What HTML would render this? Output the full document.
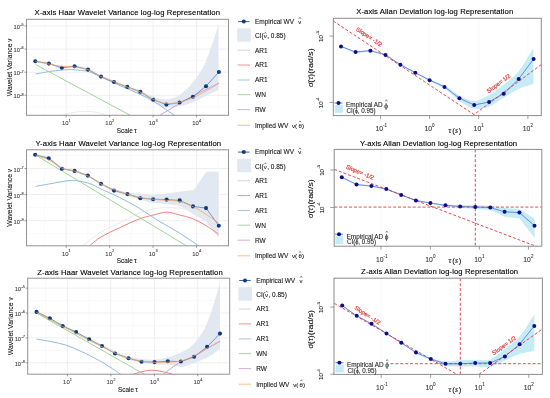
<!DOCTYPE html>
<html><head><meta charset="utf-8"><style>
html,body{margin:0;padding:0;background:#fff;}
body{width:550px;height:398px;overflow:hidden;}
svg{display:block;filter:blur(0.3px);}
</style></head><body>
<svg width="550" height="398" viewBox="0 0 550 398">
<rect width="550" height="398" fill="#fff"/>
<g>
<clipPath id="clipL0"><rect x="26.5" y="19.3" width="202.0" height="96.0"/></clipPath>
<line x1="44.48" y1="19.3" x2="44.48" y2="115.3" stroke="#f5f5f5" stroke-width="0.6"/>
<line x1="87.93" y1="19.3" x2="87.93" y2="115.3" stroke="#f5f5f5" stroke-width="0.6"/>
<line x1="131.38" y1="19.3" x2="131.38" y2="115.3" stroke="#f5f5f5" stroke-width="0.6"/>
<line x1="174.82" y1="19.3" x2="174.82" y2="115.3" stroke="#f5f5f5" stroke-width="0.6"/>
<line x1="218.28" y1="19.3" x2="218.28" y2="115.3" stroke="#f5f5f5" stroke-width="0.6"/>
<line x1="66.20" y1="19.3" x2="66.20" y2="115.3" stroke="#efefef" stroke-width="1"/>
<line x1="109.65" y1="19.3" x2="109.65" y2="115.3" stroke="#efefef" stroke-width="1"/>
<line x1="153.10" y1="19.3" x2="153.10" y2="115.3" stroke="#efefef" stroke-width="1"/>
<line x1="196.55" y1="19.3" x2="196.55" y2="115.3" stroke="#efefef" stroke-width="1"/>
<line x1="26.5" y1="106.85" x2="228.5" y2="106.85" stroke="#f5f5f5" stroke-width="0.6"/>
<line x1="26.5" y1="95.30" x2="228.5" y2="95.30" stroke="#efefef" stroke-width="1"/>
<line x1="26.5" y1="83.75" x2="228.5" y2="83.75" stroke="#f5f5f5" stroke-width="0.6"/>
<line x1="26.5" y1="72.20" x2="228.5" y2="72.20" stroke="#efefef" stroke-width="1"/>
<line x1="26.5" y1="60.65" x2="228.5" y2="60.65" stroke="#f5f5f5" stroke-width="0.6"/>
<line x1="26.5" y1="49.10" x2="228.5" y2="49.10" stroke="#efefef" stroke-width="1"/>
<line x1="26.5" y1="37.55" x2="228.5" y2="37.55" stroke="#f5f5f5" stroke-width="0.6"/>
<line x1="26.5" y1="26.00" x2="228.5" y2="26.00" stroke="#efefef" stroke-width="1"/>
<g clip-path="url(#clipL0)">
<path d="M35.30,60.20 C37.57,60.60 44.48,61.50 48.90,62.60 C53.32,63.70 57.52,66.37 61.80,66.80 C66.08,67.23 70.23,64.90 74.60,65.20 C78.97,65.50 83.60,66.87 88.00,68.60 C92.40,70.33 96.67,73.53 101.00,75.60 C105.33,77.67 109.62,79.30 114.00,81.00 C118.38,82.70 122.95,84.25 127.30,85.80 C131.65,87.35 135.78,88.47 140.10,90.30 C144.42,92.13 148.83,95.30 153.20,96.80 C157.57,98.30 161.93,99.57 166.30,99.30 C170.67,99.03 175.00,97.98 179.40,95.20 C183.80,92.42 188.33,88.15 192.70,82.60 C197.07,77.05 201.30,71.45 205.60,61.90 C209.90,52.35 216.35,31.40 218.50,25.30 L218.50,90.00 C216.35,91.00 209.90,93.93 205.60,96.00 C201.30,98.07 197.07,100.70 192.70,102.40 C188.33,104.10 183.80,105.35 179.40,106.20 C175.00,107.05 170.67,108.17 166.30,107.50 C161.93,106.83 157.57,104.38 153.20,102.20 C148.83,100.02 144.42,96.73 140.10,94.40 C135.78,92.07 131.65,90.10 127.30,88.20 C122.95,86.30 118.38,84.77 114.00,83.00 C109.62,81.23 105.33,79.67 101.00,77.60 C96.67,75.53 92.40,72.33 88.00,70.60 C83.60,68.87 78.97,67.50 74.60,67.20 C70.23,66.90 66.08,69.23 61.80,68.80 C57.52,68.37 53.32,65.70 48.90,64.60 C44.48,63.50 37.57,62.60 35.30,62.20 Z" fill="#e2e8f1"/>
<path d="M60.00,116.00 C62.00,115.43 67.75,113.38 72.00,112.60 C76.25,111.82 81.17,111.30 85.50,111.30 C89.83,111.30 94.25,111.82 98.00,112.60 C101.75,113.38 106.33,115.43 108.00,116.00" fill="none" stroke="#eaeaea" stroke-width="0.95"/>
<path d="M35.50,74.00 C37.75,73.60 44.63,72.25 49.00,71.60 C53.37,70.95 58.00,70.43 61.70,70.10 C65.40,69.77 68.03,69.55 71.20,69.60 C74.37,69.65 77.80,70.07 80.70,70.40 C83.60,70.73 85.43,70.60 88.60,71.60 C91.77,72.60 95.48,74.52 99.70,76.40 C103.92,78.28 109.35,80.87 113.90,82.90 C118.45,84.93 122.63,86.68 127.00,88.60 C131.37,90.52 135.73,92.35 140.10,94.40 C144.47,96.45 147.22,97.22 153.20,100.90 C159.18,104.58 172.20,113.90 176.00,116.50" fill="none" stroke="#8cb6e2" stroke-width="0.95"/>
<path d="M35.50,64.50 L130.00,115.20" fill="none" stroke="#98d492" stroke-width="0.95"/>
<path d="M157.00,117.00 C162.50,113.77 179.68,103.23 190.00,97.60 C200.32,91.97 214.08,85.60 218.90,83.20" fill="none" stroke="#c89be0" stroke-width="0.95"/>
<path d="M35.30,61.20 L48.90,63.60 L61.80,67.80 L74.60,66.20 L88.00,69.60 L101.00,76.60 L114.00,82.00 L127.30,86.90 L140.30,91.80 L153.20,99.70 L166.40,104.60 L179.60,102.50 L192.90,96.80 L206.00,86.20 L218.90,72.00" fill="none" stroke="#0b3a80" stroke-width="0.6" stroke-opacity="0.8"/>
<circle cx="35.30" cy="61.20" r="2.05" fill="#0b3a80"/>
<circle cx="48.90" cy="63.60" r="2.05" fill="#0b3a80"/>
<circle cx="61.80" cy="67.80" r="2.05" fill="#0b3a80"/>
<circle cx="74.60" cy="66.20" r="2.05" fill="#0b3a80"/>
<circle cx="88.00" cy="69.60" r="2.05" fill="#0b3a80"/>
<circle cx="101.00" cy="76.60" r="2.05" fill="#0b3a80"/>
<circle cx="114.00" cy="82.00" r="2.05" fill="#0b3a80"/>
<circle cx="127.30" cy="86.90" r="2.05" fill="#0b3a80"/>
<circle cx="140.30" cy="91.80" r="2.05" fill="#0b3a80"/>
<circle cx="153.20" cy="99.70" r="2.05" fill="#0b3a80"/>
<circle cx="166.40" cy="104.60" r="2.05" fill="#0b3a80"/>
<circle cx="179.60" cy="102.50" r="2.05" fill="#0b3a80"/>
<circle cx="192.90" cy="96.80" r="2.05" fill="#0b3a80"/>
<circle cx="206.00" cy="86.20" r="2.05" fill="#0b3a80"/>
<circle cx="218.90" cy="72.00" r="2.05" fill="#0b3a80"/>
<path d="M35.50,61.50 C37.75,61.92 44.63,63.18 49.00,64.00 C53.37,64.82 57.47,65.90 61.70,66.40 C65.93,66.90 70.05,66.47 74.40,67.00 C78.75,67.53 83.45,68.03 87.80,69.60 C92.15,71.17 96.15,74.42 100.50,76.40 C104.85,78.38 109.48,79.73 113.90,81.50 C118.32,83.27 122.63,85.25 127.00,87.00 C131.37,88.75 135.73,89.95 140.10,92.00 C144.47,94.05 148.83,97.40 153.20,99.30 C157.57,101.20 161.93,102.92 166.30,103.40 C170.67,103.88 174.97,103.13 179.40,102.20 C183.83,101.27 188.47,99.67 192.90,97.80 C197.33,95.93 201.67,93.43 206.00,91.00 C210.33,88.57 216.75,84.50 218.90,83.20" fill="none" stroke="#f2a860" stroke-width="0.9" stroke-opacity="0.85"/>
</g>
<rect x="26.5" y="19.3" width="202.0" height="96.0" fill="none" stroke="#939393" stroke-width="1"/>
<line x1="66.20" y1="115.3" x2="66.20" y2="117.3" stroke="#555" stroke-width="0.6"/>
<text x="65.20" y="125.10" font-size="5.9" fill="#3a3a3a" text-anchor="middle" font-family='"Liberation Sans", sans-serif'  stroke="#3a3a3a" stroke-width="0.08">10</text>
<text x="68.60" y="121.60" font-size="4.0" fill="#3a3a3a" text-anchor="start" font-family='"Liberation Sans", sans-serif'  stroke="#3a3a3a" stroke-width="0.08">1</text>
<line x1="109.65" y1="115.3" x2="109.65" y2="117.3" stroke="#555" stroke-width="0.6"/>
<text x="108.65" y="125.10" font-size="5.9" fill="#3a3a3a" text-anchor="middle" font-family='"Liberation Sans", sans-serif'  stroke="#3a3a3a" stroke-width="0.08">10</text>
<text x="112.05" y="121.60" font-size="4.0" fill="#3a3a3a" text-anchor="start" font-family='"Liberation Sans", sans-serif'  stroke="#3a3a3a" stroke-width="0.08">2</text>
<line x1="153.10" y1="115.3" x2="153.10" y2="117.3" stroke="#555" stroke-width="0.6"/>
<text x="152.10" y="125.10" font-size="5.9" fill="#3a3a3a" text-anchor="middle" font-family='"Liberation Sans", sans-serif'  stroke="#3a3a3a" stroke-width="0.08">10</text>
<text x="155.50" y="121.60" font-size="4.0" fill="#3a3a3a" text-anchor="start" font-family='"Liberation Sans", sans-serif'  stroke="#3a3a3a" stroke-width="0.08">3</text>
<line x1="196.55" y1="115.3" x2="196.55" y2="117.3" stroke="#555" stroke-width="0.6"/>
<text x="195.55" y="125.10" font-size="5.9" fill="#3a3a3a" text-anchor="middle" font-family='"Liberation Sans", sans-serif'  stroke="#3a3a3a" stroke-width="0.08">10</text>
<text x="198.95" y="121.60" font-size="4.0" fill="#3a3a3a" text-anchor="start" font-family='"Liberation Sans", sans-serif'  stroke="#3a3a3a" stroke-width="0.08">4</text>
<line x1="24.5" y1="26.00" x2="26.5" y2="26.00" stroke="#555" stroke-width="0.6"/>
<text x="19.90" y="29.10" font-size="5.8" fill="#3a3a3a" text-anchor="end" font-family='"Liberation Sans", sans-serif'  stroke="#3a3a3a" stroke-width="0.08">10</text>
<text x="20.20" y="26.30" font-size="4.0" fill="#3a3a3a" text-anchor="start" font-family='"Liberation Sans", sans-serif'  stroke="#3a3a3a" stroke-width="0.08">-5</text>
<line x1="24.5" y1="49.10" x2="26.5" y2="49.10" stroke="#555" stroke-width="0.6"/>
<text x="19.90" y="52.20" font-size="5.8" fill="#3a3a3a" text-anchor="end" font-family='"Liberation Sans", sans-serif'  stroke="#3a3a3a" stroke-width="0.08">10</text>
<text x="20.20" y="49.40" font-size="4.0" fill="#3a3a3a" text-anchor="start" font-family='"Liberation Sans", sans-serif'  stroke="#3a3a3a" stroke-width="0.08">-6</text>
<line x1="24.5" y1="72.20" x2="26.5" y2="72.20" stroke="#555" stroke-width="0.6"/>
<text x="19.90" y="75.30" font-size="5.8" fill="#3a3a3a" text-anchor="end" font-family='"Liberation Sans", sans-serif'  stroke="#3a3a3a" stroke-width="0.08">10</text>
<text x="20.20" y="72.50" font-size="4.0" fill="#3a3a3a" text-anchor="start" font-family='"Liberation Sans", sans-serif'  stroke="#3a3a3a" stroke-width="0.08">-7</text>
<line x1="24.5" y1="95.30" x2="26.5" y2="95.30" stroke="#555" stroke-width="0.6"/>
<text x="19.90" y="98.40" font-size="5.8" fill="#3a3a3a" text-anchor="end" font-family='"Liberation Sans", sans-serif'  stroke="#3a3a3a" stroke-width="0.08">10</text>
<text x="20.20" y="95.60" font-size="4.0" fill="#3a3a3a" text-anchor="start" font-family='"Liberation Sans", sans-serif'  stroke="#3a3a3a" stroke-width="0.08">-8</text>
<text x="34.50" y="14.60" font-size="7.7" fill="#000" text-anchor="start" font-family='"Liberation Sans", sans-serif' textLength="185.5" lengthAdjust="spacing" stroke="#000" stroke-width="0.12">X-axis Haar Wavelet Variance log-log Representation</text>
<text x="116.80" y="132.70" font-size="6.4" fill="#111" text-anchor="start" font-family='"Liberation Sans", sans-serif'  stroke="#111" stroke-width="0.08">Scale</text>
<text x="134.00" y="132.90" font-size="6.9" fill="#111" text-anchor="start" font-family='"Liberation Sans", sans-serif'  stroke="#111" stroke-width="0.08">&#964;</text>
<text transform="translate(11.70,96.30) rotate(-90)" font-size="6.83" fill="#111" stroke="#111" stroke-width="0.08" font-family='"Liberation Sans", sans-serif'>Wavelet Variance <tspan font-size="6.3">&#957;</tspan></text>
<line x1="238.0" y1="21.6" x2="249.5" y2="21.6" stroke="#0b3a80" stroke-width="0.8"/>
<circle cx="243.8" cy="21.6" r="2" fill="#0b3a80"/>
<rect x="237.2" y="28.3" width="13.6" height="13.4" fill="#e2e8f1"/>
<line x1="237.6" y1="50.2" x2="250.0" y2="50.2" stroke="#d0d0d0" stroke-width="0.9"/>
<line x1="237.6" y1="65.0" x2="250.0" y2="65.0" stroke="#f28a8a" stroke-width="0.9"/>
<line x1="237.6" y1="80.0" x2="250.0" y2="80.0" stroke="#9ebfe6" stroke-width="0.9"/>
<line x1="237.6" y1="94.7" x2="250.0" y2="94.7" stroke="#9cd398" stroke-width="0.9"/>
<line x1="237.6" y1="109.7" x2="250.0" y2="109.7" stroke="#cfa3e2" stroke-width="0.9"/>
<line x1="237.6" y1="125.3" x2="250.0" y2="125.3" stroke="#f6b878" stroke-width="0.9"/>
<text x="255.00" y="23.90" font-size="6.5" fill="#111" text-anchor="start" font-family='"Liberation Sans", sans-serif'  stroke="#111" stroke-width="0.08">Empirical WV</text>
<text x="298.30" y="23.90" font-size="6.0" fill="#111" text-anchor="start" font-family='"Liberation Sans", sans-serif'  stroke="#111" stroke-width="0.08">&#957;</text>
<path d="M299.00,18.80 L300.00,17.30 L301.00,18.80" fill="none" stroke="#111" stroke-width="0.5"/>
<text x="255.00" y="38.30" font-size="6.5" fill="#111" text-anchor="start" font-family='"Liberation Sans", sans-serif'  stroke="#111" stroke-width="0.08">CI(</text>
<text x="263.80" y="38.30" font-size="6.0" fill="#111" text-anchor="start" font-family='"Liberation Sans", sans-serif'  stroke="#111" stroke-width="0.08">&#957;</text>
<path d="M264.50,33.60 L265.40,32.30 L266.30,33.60" fill="none" stroke="#111" stroke-width="0.5"/>
<text x="267.20" y="38.30" font-size="6.5" fill="#111" text-anchor="start" font-family='"Liberation Sans", sans-serif'  stroke="#111" stroke-width="0.08">, 0.85)</text>
<text x="255.00" y="52.50" font-size="6.5" fill="#111" text-anchor="start" font-family='"Liberation Sans", sans-serif'  stroke="#111" stroke-width="0.08">AR1</text>
<text x="255.00" y="67.30" font-size="6.5" fill="#111" text-anchor="start" font-family='"Liberation Sans", sans-serif'  stroke="#111" stroke-width="0.08">AR1</text>
<text x="255.00" y="82.30" font-size="6.5" fill="#111" text-anchor="start" font-family='"Liberation Sans", sans-serif'  stroke="#111" stroke-width="0.08">AR1</text>
<text x="255.00" y="97.00" font-size="6.5" fill="#111" text-anchor="start" font-family='"Liberation Sans", sans-serif'  stroke="#111" stroke-width="0.08">WN</text>
<text x="255.00" y="112.00" font-size="6.5" fill="#111" text-anchor="start" font-family='"Liberation Sans", sans-serif'  stroke="#111" stroke-width="0.08">RW</text>
<text x="255.00" y="127.60" font-size="6.5" fill="#111" text-anchor="start" font-family='"Liberation Sans", sans-serif'  stroke="#111" stroke-width="0.08">Implied WV</text>
<text x="292.00" y="127.60" font-size="6.2" fill="#111" text-anchor="start" font-family='"Liberation Sans", sans-serif'  stroke="#111" stroke-width="0.08">&#957;(</text>
<text x="298.40" y="127.60" font-size="6.0" fill="#111" text-anchor="start" font-family='"Liberation Sans", sans-serif'  stroke="#111" stroke-width="0.08">&#952;</text>
<path d="M299.20,122.20 L300.10,120.90 L301.00,122.20" fill="none" stroke="#111" stroke-width="0.5"/>
<text x="301.90" y="127.60" font-size="6.2" fill="#111" text-anchor="start" font-family='"Liberation Sans", sans-serif'  stroke="#111" stroke-width="0.08">)</text>
</g>
<g>
<clipPath id="clipL130"><rect x="26.5" y="149.8" width="202.0" height="96.0"/></clipPath>
<line x1="44.48" y1="149.8" x2="44.48" y2="245.8" stroke="#f5f5f5" stroke-width="0.6"/>
<line x1="87.93" y1="149.8" x2="87.93" y2="245.8" stroke="#f5f5f5" stroke-width="0.6"/>
<line x1="131.38" y1="149.8" x2="131.38" y2="245.8" stroke="#f5f5f5" stroke-width="0.6"/>
<line x1="174.82" y1="149.8" x2="174.82" y2="245.8" stroke="#f5f5f5" stroke-width="0.6"/>
<line x1="218.28" y1="149.8" x2="218.28" y2="245.8" stroke="#f5f5f5" stroke-width="0.6"/>
<line x1="66.20" y1="149.8" x2="66.20" y2="245.8" stroke="#efefef" stroke-width="1"/>
<line x1="109.65" y1="149.8" x2="109.65" y2="245.8" stroke="#efefef" stroke-width="1"/>
<line x1="153.10" y1="149.8" x2="153.10" y2="245.8" stroke="#efefef" stroke-width="1"/>
<line x1="196.55" y1="149.8" x2="196.55" y2="245.8" stroke="#efefef" stroke-width="1"/>
<line x1="26.5" y1="233.75" x2="228.5" y2="233.75" stroke="#f5f5f5" stroke-width="0.6"/>
<line x1="26.5" y1="220.70" x2="228.5" y2="220.70" stroke="#efefef" stroke-width="1"/>
<line x1="26.5" y1="207.65" x2="228.5" y2="207.65" stroke="#f5f5f5" stroke-width="0.6"/>
<line x1="26.5" y1="194.60" x2="228.5" y2="194.60" stroke="#efefef" stroke-width="1"/>
<line x1="26.5" y1="181.55" x2="228.5" y2="181.55" stroke="#f5f5f5" stroke-width="0.6"/>
<line x1="26.5" y1="168.50" x2="228.5" y2="168.50" stroke="#efefef" stroke-width="1"/>
<line x1="26.5" y1="155.45" x2="228.5" y2="155.45" stroke="#f5f5f5" stroke-width="0.6"/>
<g clip-path="url(#clipL130)">
<path d="M35.20,153.60 L48.70,157.00 L61.90,167.50 L74.60,169.70 L87.80,174.40 L101.00,182.50 L114.00,189.20 L127.40,192.50 L150.00,195.20 L166.60,193.80 L179.90,191.60 L193.70,189.90 L206.50,171.70 L218.70,171.70 L218.70,237.80 L206.00,221.80 L193.70,214.40 L179.90,205.80 L166.60,204.00 L150.00,202.60 L127.40,196.00 L114.00,192.00 L101.00,185.10 L87.80,176.80 L74.60,172.10 L61.90,169.90 L48.70,159.40 L35.20,156.00 Z" fill="#e2e8f1"/>
<path d="M80.00,248.00 C83.33,245.45 93.40,236.88 100.00,232.70 C106.60,228.52 113.07,226.17 119.60,222.90 C126.13,219.63 132.67,215.55 139.20,213.10 C145.73,210.65 152.27,209.02 158.80,208.20 C165.33,207.38 172.77,207.73 178.40,208.20 C184.03,208.67 188.17,209.70 192.60,211.00 C197.03,212.30 200.65,213.83 205.00,216.00 C209.35,218.17 216.42,222.67 218.70,224.00" fill="none" stroke="#eaeaea" stroke-width="0.95"/>
<path d="M85.00,250.00 C87.50,247.93 94.23,241.30 100.00,237.60 C105.77,233.90 113.07,230.90 119.60,227.80 C126.13,224.70 133.63,221.12 139.20,219.00 C144.77,216.88 148.42,216.23 153.00,215.10 C157.58,213.97 162.47,212.27 166.70,212.20 C170.93,212.13 174.08,213.63 178.40,214.70 C182.72,215.77 188.17,216.88 192.60,218.60 C197.03,220.32 200.65,222.40 205.00,225.00 C209.35,227.60 216.42,232.67 218.70,234.20" fill="none" stroke="#f07a76" stroke-width="0.95"/>
<path d="M35.50,186.50 C38.02,186.03 45.13,184.67 50.60,183.70 C56.07,182.73 63.90,181.20 68.30,180.70 C72.70,180.20 73.23,180.15 77.00,180.70 C80.77,181.25 87.07,182.68 90.90,184.00 C94.73,185.32 95.22,186.35 100.00,188.60 C104.78,190.85 113.07,194.23 119.60,197.50 C126.13,200.77 132.67,204.28 139.20,208.20 C145.73,212.12 152.27,216.98 158.80,221.00 C165.33,225.02 171.62,228.05 178.40,232.30 C185.18,236.55 195.98,244.13 199.50,246.50" fill="none" stroke="#8cb6e2" stroke-width="0.95"/>
<path d="M35.50,155.00 C60.30,169.92 158.55,229.00 184.30,244.50 C210.05,260.00 189.05,247.42 190.00,248.00" fill="none" stroke="#98d492" stroke-width="0.95"/>
<path d="M35.20,154.80 L48.70,158.20 L61.90,168.70 L74.60,170.90 L87.80,175.60 L101.00,183.80 L114.00,190.60 L127.40,194.10 L140.30,198.20 L153.10,199.20 L166.60,199.60 L179.70,200.40 L193.00,206.40 L206.00,208.10 L218.80,225.70" fill="none" stroke="#0b3a80" stroke-width="0.6" stroke-opacity="0.8"/>
<circle cx="35.20" cy="154.80" r="2.05" fill="#0b3a80"/>
<circle cx="48.70" cy="158.20" r="2.05" fill="#0b3a80"/>
<circle cx="61.90" cy="168.70" r="2.05" fill="#0b3a80"/>
<circle cx="74.60" cy="170.90" r="2.05" fill="#0b3a80"/>
<circle cx="87.80" cy="175.60" r="2.05" fill="#0b3a80"/>
<circle cx="101.00" cy="183.80" r="2.05" fill="#0b3a80"/>
<circle cx="114.00" cy="190.60" r="2.05" fill="#0b3a80"/>
<circle cx="127.40" cy="194.10" r="2.05" fill="#0b3a80"/>
<circle cx="140.30" cy="198.20" r="2.05" fill="#0b3a80"/>
<circle cx="153.10" cy="199.20" r="2.05" fill="#0b3a80"/>
<circle cx="166.60" cy="199.60" r="2.05" fill="#0b3a80"/>
<circle cx="179.70" cy="200.40" r="2.05" fill="#0b3a80"/>
<circle cx="193.00" cy="206.40" r="2.05" fill="#0b3a80"/>
<circle cx="206.00" cy="208.10" r="2.05" fill="#0b3a80"/>
<circle cx="218.80" cy="225.70" r="2.05" fill="#0b3a80"/>
<path d="M35.50,155.00 C37.70,155.83 44.28,157.82 48.70,160.00 C53.12,162.18 57.70,166.25 62.00,168.10 C66.30,169.95 70.10,169.75 74.50,171.10 C78.90,172.45 83.98,174.05 88.40,176.20 C92.82,178.35 96.73,181.78 101.00,184.00 C105.27,186.22 109.60,187.83 114.00,189.50 C118.40,191.17 123.02,192.67 127.40,194.00 C131.78,195.33 136.02,196.63 140.30,197.50 C144.58,198.37 148.72,198.72 153.10,199.20 C157.48,199.68 162.13,200.00 166.60,200.40 C171.07,200.80 175.38,200.50 179.90,201.60 C184.42,202.70 189.35,204.87 193.70,207.00 C198.05,209.13 201.83,211.75 206.00,214.40 C210.17,217.05 216.58,221.48 218.70,222.90" fill="none" stroke="#f2a860" stroke-width="0.9" stroke-opacity="0.85"/>
</g>
<rect x="26.5" y="149.8" width="202.0" height="96.0" fill="none" stroke="#939393" stroke-width="1"/>
<line x1="66.20" y1="245.8" x2="66.20" y2="247.8" stroke="#555" stroke-width="0.6"/>
<text x="65.20" y="255.60" font-size="5.9" fill="#3a3a3a" text-anchor="middle" font-family='"Liberation Sans", sans-serif'  stroke="#3a3a3a" stroke-width="0.08">10</text>
<text x="68.60" y="252.10" font-size="4.0" fill="#3a3a3a" text-anchor="start" font-family='"Liberation Sans", sans-serif'  stroke="#3a3a3a" stroke-width="0.08">1</text>
<line x1="109.65" y1="245.8" x2="109.65" y2="247.8" stroke="#555" stroke-width="0.6"/>
<text x="108.65" y="255.60" font-size="5.9" fill="#3a3a3a" text-anchor="middle" font-family='"Liberation Sans", sans-serif'  stroke="#3a3a3a" stroke-width="0.08">10</text>
<text x="112.05" y="252.10" font-size="4.0" fill="#3a3a3a" text-anchor="start" font-family='"Liberation Sans", sans-serif'  stroke="#3a3a3a" stroke-width="0.08">2</text>
<line x1="153.10" y1="245.8" x2="153.10" y2="247.8" stroke="#555" stroke-width="0.6"/>
<text x="152.10" y="255.60" font-size="5.9" fill="#3a3a3a" text-anchor="middle" font-family='"Liberation Sans", sans-serif'  stroke="#3a3a3a" stroke-width="0.08">10</text>
<text x="155.50" y="252.10" font-size="4.0" fill="#3a3a3a" text-anchor="start" font-family='"Liberation Sans", sans-serif'  stroke="#3a3a3a" stroke-width="0.08">3</text>
<line x1="196.55" y1="245.8" x2="196.55" y2="247.8" stroke="#555" stroke-width="0.6"/>
<text x="195.55" y="255.60" font-size="5.9" fill="#3a3a3a" text-anchor="middle" font-family='"Liberation Sans", sans-serif'  stroke="#3a3a3a" stroke-width="0.08">10</text>
<text x="198.95" y="252.10" font-size="4.0" fill="#3a3a3a" text-anchor="start" font-family='"Liberation Sans", sans-serif'  stroke="#3a3a3a" stroke-width="0.08">4</text>
<line x1="24.5" y1="168.50" x2="26.5" y2="168.50" stroke="#555" stroke-width="0.6"/>
<text x="19.90" y="171.60" font-size="5.8" fill="#3a3a3a" text-anchor="end" font-family='"Liberation Sans", sans-serif'  stroke="#3a3a3a" stroke-width="0.08">10</text>
<text x="20.20" y="168.80" font-size="4.0" fill="#3a3a3a" text-anchor="start" font-family='"Liberation Sans", sans-serif'  stroke="#3a3a3a" stroke-width="0.08">-7</text>
<line x1="24.5" y1="194.60" x2="26.5" y2="194.60" stroke="#555" stroke-width="0.6"/>
<text x="19.90" y="197.70" font-size="5.8" fill="#3a3a3a" text-anchor="end" font-family='"Liberation Sans", sans-serif'  stroke="#3a3a3a" stroke-width="0.08">10</text>
<text x="20.20" y="194.90" font-size="4.0" fill="#3a3a3a" text-anchor="start" font-family='"Liberation Sans", sans-serif'  stroke="#3a3a3a" stroke-width="0.08">-8</text>
<line x1="24.5" y1="220.70" x2="26.5" y2="220.70" stroke="#555" stroke-width="0.6"/>
<text x="19.90" y="223.80" font-size="5.8" fill="#3a3a3a" text-anchor="end" font-family='"Liberation Sans", sans-serif'  stroke="#3a3a3a" stroke-width="0.08">10</text>
<text x="20.20" y="221.00" font-size="4.0" fill="#3a3a3a" text-anchor="start" font-family='"Liberation Sans", sans-serif'  stroke="#3a3a3a" stroke-width="0.08">-9</text>
<text x="35.60" y="146.20" font-size="7.7" fill="#000" text-anchor="start" font-family='"Liberation Sans", sans-serif' textLength="185.5" lengthAdjust="spacing" stroke="#000" stroke-width="0.12">Y-axis Haar Wavelet Variance log-log Representation</text>
<text x="116.80" y="263.20" font-size="6.4" fill="#111" text-anchor="start" font-family='"Liberation Sans", sans-serif'  stroke="#111" stroke-width="0.08">Scale</text>
<text x="134.00" y="263.40" font-size="6.9" fill="#111" text-anchor="start" font-family='"Liberation Sans", sans-serif'  stroke="#111" stroke-width="0.08">&#964;</text>
<text transform="translate(11.70,226.80) rotate(-90)" font-size="6.83" fill="#111" stroke="#111" stroke-width="0.08" font-family='"Liberation Sans", sans-serif'>Wavelet Variance <tspan font-size="6.3">&#957;</tspan></text>
<line x1="238.0" y1="152.1" x2="249.5" y2="152.1" stroke="#0b3a80" stroke-width="0.8"/>
<circle cx="243.8" cy="152.1" r="2" fill="#0b3a80"/>
<rect x="237.2" y="158.8" width="13.6" height="13.4" fill="#e2e8f1"/>
<line x1="237.6" y1="180.7" x2="250.0" y2="180.7" stroke="#d0d0d0" stroke-width="0.9"/>
<line x1="237.6" y1="195.5" x2="250.0" y2="195.5" stroke="#f28a8a" stroke-width="0.9"/>
<line x1="237.6" y1="210.5" x2="250.0" y2="210.5" stroke="#9ebfe6" stroke-width="0.9"/>
<line x1="237.6" y1="225.2" x2="250.0" y2="225.2" stroke="#9cd398" stroke-width="0.9"/>
<line x1="237.6" y1="240.2" x2="250.0" y2="240.2" stroke="#cfa3e2" stroke-width="0.9"/>
<line x1="237.6" y1="255.8" x2="250.0" y2="255.8" stroke="#f6b878" stroke-width="0.9"/>
<text x="255.00" y="154.40" font-size="6.5" fill="#111" text-anchor="start" font-family='"Liberation Sans", sans-serif'  stroke="#111" stroke-width="0.08">Empirical WV</text>
<text x="298.30" y="154.40" font-size="6.0" fill="#111" text-anchor="start" font-family='"Liberation Sans", sans-serif'  stroke="#111" stroke-width="0.08">&#957;</text>
<path d="M299.00,149.30 L300.00,147.80 L301.00,149.30" fill="none" stroke="#111" stroke-width="0.5"/>
<text x="255.00" y="168.80" font-size="6.5" fill="#111" text-anchor="start" font-family='"Liberation Sans", sans-serif'  stroke="#111" stroke-width="0.08">CI(</text>
<text x="263.80" y="168.80" font-size="6.0" fill="#111" text-anchor="start" font-family='"Liberation Sans", sans-serif'  stroke="#111" stroke-width="0.08">&#957;</text>
<path d="M264.50,164.10 L265.40,162.80 L266.30,164.10" fill="none" stroke="#111" stroke-width="0.5"/>
<text x="267.20" y="168.80" font-size="6.5" fill="#111" text-anchor="start" font-family='"Liberation Sans", sans-serif'  stroke="#111" stroke-width="0.08">, 0.85)</text>
<text x="255.00" y="183.00" font-size="6.5" fill="#111" text-anchor="start" font-family='"Liberation Sans", sans-serif'  stroke="#111" stroke-width="0.08">AR1</text>
<text x="255.00" y="197.80" font-size="6.5" fill="#111" text-anchor="start" font-family='"Liberation Sans", sans-serif'  stroke="#111" stroke-width="0.08">AR1</text>
<text x="255.00" y="212.80" font-size="6.5" fill="#111" text-anchor="start" font-family='"Liberation Sans", sans-serif'  stroke="#111" stroke-width="0.08">AR1</text>
<text x="255.00" y="227.50" font-size="6.5" fill="#111" text-anchor="start" font-family='"Liberation Sans", sans-serif'  stroke="#111" stroke-width="0.08">WN</text>
<text x="255.00" y="242.50" font-size="6.5" fill="#111" text-anchor="start" font-family='"Liberation Sans", sans-serif'  stroke="#111" stroke-width="0.08">RW</text>
<text x="255.00" y="258.10" font-size="6.5" fill="#111" text-anchor="start" font-family='"Liberation Sans", sans-serif'  stroke="#111" stroke-width="0.08">Implied WV</text>
<text x="292.00" y="258.10" font-size="6.2" fill="#111" text-anchor="start" font-family='"Liberation Sans", sans-serif'  stroke="#111" stroke-width="0.08">&#957;(</text>
<text x="298.40" y="258.10" font-size="6.0" fill="#111" text-anchor="start" font-family='"Liberation Sans", sans-serif'  stroke="#111" stroke-width="0.08">&#952;</text>
<path d="M299.20,252.70 L300.10,251.40 L301.00,252.70" fill="none" stroke="#111" stroke-width="0.5"/>
<text x="301.90" y="258.10" font-size="6.2" fill="#111" text-anchor="start" font-family='"Liberation Sans", sans-serif'  stroke="#111" stroke-width="0.08">)</text>
</g>
<g>
<clipPath id="clipL259"><rect x="27.7" y="278.2" width="202.0" height="96.0"/></clipPath>
<line x1="45.68" y1="278.2" x2="45.68" y2="374.2" stroke="#f5f5f5" stroke-width="0.6"/>
<line x1="89.13" y1="278.2" x2="89.13" y2="374.2" stroke="#f5f5f5" stroke-width="0.6"/>
<line x1="132.57" y1="278.2" x2="132.57" y2="374.2" stroke="#f5f5f5" stroke-width="0.6"/>
<line x1="176.02" y1="278.2" x2="176.02" y2="374.2" stroke="#f5f5f5" stroke-width="0.6"/>
<line x1="219.48" y1="278.2" x2="219.48" y2="374.2" stroke="#f5f5f5" stroke-width="0.6"/>
<line x1="67.40" y1="278.2" x2="67.40" y2="374.2" stroke="#efefef" stroke-width="1"/>
<line x1="110.85" y1="278.2" x2="110.85" y2="374.2" stroke="#efefef" stroke-width="1"/>
<line x1="154.30" y1="278.2" x2="154.30" y2="374.2" stroke="#efefef" stroke-width="1"/>
<line x1="197.75" y1="278.2" x2="197.75" y2="374.2" stroke="#efefef" stroke-width="1"/>
<line x1="27.7" y1="362.80" x2="229.7" y2="362.80" stroke="#efefef" stroke-width="1"/>
<line x1="27.7" y1="350.35" x2="229.7" y2="350.35" stroke="#f5f5f5" stroke-width="0.6"/>
<line x1="27.7" y1="337.90" x2="229.7" y2="337.90" stroke="#efefef" stroke-width="1"/>
<line x1="27.7" y1="325.45" x2="229.7" y2="325.45" stroke="#f5f5f5" stroke-width="0.6"/>
<line x1="27.7" y1="313.00" x2="229.7" y2="313.00" stroke="#efefef" stroke-width="1"/>
<line x1="27.7" y1="300.55" x2="229.7" y2="300.55" stroke="#f5f5f5" stroke-width="0.6"/>
<line x1="27.7" y1="288.10" x2="229.7" y2="288.10" stroke="#efefef" stroke-width="1"/>
<g clip-path="url(#clipL259)">
<path d="M36.50,310.70 C47.42,316.38 86.67,337.15 102.00,344.80 C117.33,352.45 119.95,354.13 128.50,356.60 C137.05,359.07 146.75,359.48 153.30,359.60 C159.85,359.72 163.15,358.50 167.80,357.30 C172.45,356.10 176.82,354.72 181.20,352.40 C185.58,350.08 189.78,348.28 194.10,343.40 C198.42,338.52 202.78,333.18 207.10,323.10 C211.42,313.02 217.85,289.60 220.00,282.90 L220.00,349.00 C217.85,350.42 211.42,355.17 207.10,357.50 C202.78,359.83 198.42,361.42 194.10,363.00 C189.78,364.58 185.58,366.73 181.20,367.00 C176.82,367.27 172.45,365.03 167.80,364.60 C163.15,364.17 159.85,365.20 153.30,364.40 C146.75,363.60 137.05,362.67 128.50,359.80 C119.95,356.93 117.33,354.98 102.00,347.20 C86.67,339.42 47.42,318.78 36.50,313.10 Z" fill="#e2e8f1"/>
<path d="M128.00,377.00 C128.92,376.53 129.57,375.33 133.50,374.20 C137.43,373.07 145.07,370.20 151.60,370.20 C158.13,370.20 168.30,373.07 172.70,374.20 C177.10,375.33 177.12,376.53 178.00,377.00" fill="none" stroke="#f07a76" stroke-width="0.95"/>
<path d="M36.50,339.10 C38.90,339.52 45.95,340.58 50.90,341.60 C55.85,342.62 61.12,343.55 66.20,345.20 C71.28,346.85 76.32,349.17 81.40,351.50 C86.48,353.83 92.27,356.82 96.70,359.20 C101.13,361.58 103.58,363.00 108.00,365.80 C112.42,368.60 120.67,374.30 123.20,376.00" fill="none" stroke="#8cb6e2" stroke-width="0.95"/>
<path d="M36.50,313.00 C54.45,323.20 125.08,363.37 144.20,374.20 C163.32,385.03 150.03,377.37 151.20,378.00" fill="none" stroke="#98d492" stroke-width="0.95"/>
<path d="M161.20,378.00 C161.58,377.38 161.73,376.00 163.50,374.30 C165.27,372.60 168.90,369.87 171.80,367.80 C174.70,365.73 177.20,363.80 180.90,361.90 C184.60,360.00 189.65,358.62 194.00,356.40 C198.35,354.18 202.67,351.12 207.00,348.60 C211.33,346.08 217.83,342.52 220.00,341.30" fill="none" stroke="#c89be0" stroke-width="0.95"/>
<path d="M36.50,311.90 L49.80,318.30 L62.70,326.00 L76.10,332.10 L89.10,339.30 L102.00,346.00 L115.00,353.50 L128.50,358.20 L141.50,361.80 L154.50,362.10 L167.80,361.20 L180.90,361.50 L194.10,356.80 L207.10,346.80 L220.00,333.60" fill="none" stroke="#0b3a80" stroke-width="0.6" stroke-opacity="0.8"/>
<circle cx="36.50" cy="311.90" r="2.05" fill="#0b3a80"/>
<circle cx="49.80" cy="318.30" r="2.05" fill="#0b3a80"/>
<circle cx="62.70" cy="326.00" r="2.05" fill="#0b3a80"/>
<circle cx="76.10" cy="332.10" r="2.05" fill="#0b3a80"/>
<circle cx="89.10" cy="339.30" r="2.05" fill="#0b3a80"/>
<circle cx="102.00" cy="346.00" r="2.05" fill="#0b3a80"/>
<circle cx="115.00" cy="353.50" r="2.05" fill="#0b3a80"/>
<circle cx="128.50" cy="358.20" r="2.05" fill="#0b3a80"/>
<circle cx="141.50" cy="361.80" r="2.05" fill="#0b3a80"/>
<circle cx="154.50" cy="362.10" r="2.05" fill="#0b3a80"/>
<circle cx="167.80" cy="361.20" r="2.05" fill="#0b3a80"/>
<circle cx="180.90" cy="361.50" r="2.05" fill="#0b3a80"/>
<circle cx="194.10" cy="356.80" r="2.05" fill="#0b3a80"/>
<circle cx="207.10" cy="346.80" r="2.05" fill="#0b3a80"/>
<circle cx="220.00" cy="333.60" r="2.05" fill="#0b3a80"/>
<path d="M36.50,312.50 C40.87,314.83 51.78,320.78 62.70,326.50 C73.62,332.22 91.00,341.50 102.00,346.80 C113.00,352.10 119.95,355.70 128.70,358.30 C137.45,360.90 148.00,361.75 154.50,362.40 C161.00,363.05 163.30,362.43 167.70,362.20 C172.10,361.97 176.52,362.03 180.90,361.00 C185.28,359.97 189.65,358.12 194.00,356.00 C198.35,353.88 202.67,350.77 207.00,348.30 C211.33,345.83 217.83,342.38 220.00,341.20" fill="none" stroke="#f2a860" stroke-width="0.9" stroke-opacity="0.85"/>
</g>
<rect x="27.7" y="278.2" width="202.0" height="96.0" fill="none" stroke="#939393" stroke-width="1"/>
<line x1="67.40" y1="374.2" x2="67.40" y2="376.2" stroke="#555" stroke-width="0.6"/>
<text x="66.40" y="384.00" font-size="5.9" fill="#3a3a3a" text-anchor="middle" font-family='"Liberation Sans", sans-serif'  stroke="#3a3a3a" stroke-width="0.08">10</text>
<text x="69.80" y="380.50" font-size="4.0" fill="#3a3a3a" text-anchor="start" font-family='"Liberation Sans", sans-serif'  stroke="#3a3a3a" stroke-width="0.08">1</text>
<line x1="110.85" y1="374.2" x2="110.85" y2="376.2" stroke="#555" stroke-width="0.6"/>
<text x="109.85" y="384.00" font-size="5.9" fill="#3a3a3a" text-anchor="middle" font-family='"Liberation Sans", sans-serif'  stroke="#3a3a3a" stroke-width="0.08">10</text>
<text x="113.25" y="380.50" font-size="4.0" fill="#3a3a3a" text-anchor="start" font-family='"Liberation Sans", sans-serif'  stroke="#3a3a3a" stroke-width="0.08">2</text>
<line x1="154.30" y1="374.2" x2="154.30" y2="376.2" stroke="#555" stroke-width="0.6"/>
<text x="153.30" y="384.00" font-size="5.9" fill="#3a3a3a" text-anchor="middle" font-family='"Liberation Sans", sans-serif'  stroke="#3a3a3a" stroke-width="0.08">10</text>
<text x="156.70" y="380.50" font-size="4.0" fill="#3a3a3a" text-anchor="start" font-family='"Liberation Sans", sans-serif'  stroke="#3a3a3a" stroke-width="0.08">3</text>
<line x1="197.75" y1="374.2" x2="197.75" y2="376.2" stroke="#555" stroke-width="0.6"/>
<text x="196.75" y="384.00" font-size="5.9" fill="#3a3a3a" text-anchor="middle" font-family='"Liberation Sans", sans-serif'  stroke="#3a3a3a" stroke-width="0.08">10</text>
<text x="200.15" y="380.50" font-size="4.0" fill="#3a3a3a" text-anchor="start" font-family='"Liberation Sans", sans-serif'  stroke="#3a3a3a" stroke-width="0.08">4</text>
<line x1="25.7" y1="288.10" x2="27.7" y2="288.10" stroke="#555" stroke-width="0.6"/>
<text x="21.10" y="291.20" font-size="5.8" fill="#3a3a3a" text-anchor="end" font-family='"Liberation Sans", sans-serif'  stroke="#3a3a3a" stroke-width="0.08">10</text>
<text x="21.40" y="288.40" font-size="4.0" fill="#3a3a3a" text-anchor="start" font-family='"Liberation Sans", sans-serif'  stroke="#3a3a3a" stroke-width="0.08">-5</text>
<line x1="25.7" y1="313.00" x2="27.7" y2="313.00" stroke="#555" stroke-width="0.6"/>
<text x="21.10" y="316.10" font-size="5.8" fill="#3a3a3a" text-anchor="end" font-family='"Liberation Sans", sans-serif'  stroke="#3a3a3a" stroke-width="0.08">10</text>
<text x="21.40" y="313.30" font-size="4.0" fill="#3a3a3a" text-anchor="start" font-family='"Liberation Sans", sans-serif'  stroke="#3a3a3a" stroke-width="0.08">-6</text>
<line x1="25.7" y1="337.90" x2="27.7" y2="337.90" stroke="#555" stroke-width="0.6"/>
<text x="21.10" y="341.00" font-size="5.8" fill="#3a3a3a" text-anchor="end" font-family='"Liberation Sans", sans-serif'  stroke="#3a3a3a" stroke-width="0.08">10</text>
<text x="21.40" y="338.20" font-size="4.0" fill="#3a3a3a" text-anchor="start" font-family='"Liberation Sans", sans-serif'  stroke="#3a3a3a" stroke-width="0.08">-7</text>
<line x1="25.7" y1="362.80" x2="27.7" y2="362.80" stroke="#555" stroke-width="0.6"/>
<text x="21.10" y="365.90" font-size="5.8" fill="#3a3a3a" text-anchor="end" font-family='"Liberation Sans", sans-serif'  stroke="#3a3a3a" stroke-width="0.08">10</text>
<text x="21.40" y="363.10" font-size="4.0" fill="#3a3a3a" text-anchor="start" font-family='"Liberation Sans", sans-serif'  stroke="#3a3a3a" stroke-width="0.08">-8</text>
<text x="37.20" y="274.80" font-size="7.7" fill="#000" text-anchor="start" font-family='"Liberation Sans", sans-serif' textLength="185.5" lengthAdjust="spacing" stroke="#000" stroke-width="0.12">Z-axis Haar Wavelet Variance log-log Representation</text>
<text x="118.00" y="391.60" font-size="6.4" fill="#111" text-anchor="start" font-family='"Liberation Sans", sans-serif'  stroke="#111" stroke-width="0.08">Scale</text>
<text x="135.20" y="391.80" font-size="6.9" fill="#111" text-anchor="start" font-family='"Liberation Sans", sans-serif'  stroke="#111" stroke-width="0.08">&#964;</text>
<text transform="translate(12.90,355.20) rotate(-90)" font-size="6.83" fill="#111" stroke="#111" stroke-width="0.08" font-family='"Liberation Sans", sans-serif'>Wavelet Variance <tspan font-size="6.3">&#957;</tspan></text>
<line x1="239.2" y1="280.5" x2="250.7" y2="280.5" stroke="#0b3a80" stroke-width="0.8"/>
<circle cx="245.0" cy="280.5" r="2" fill="#0b3a80"/>
<rect x="238.39999999999998" y="287.2" width="13.6" height="13.4" fill="#e2e8f1"/>
<line x1="238.79999999999998" y1="309.09999999999997" x2="251.2" y2="309.09999999999997" stroke="#d0d0d0" stroke-width="0.9"/>
<line x1="238.79999999999998" y1="323.9" x2="251.2" y2="323.9" stroke="#f28a8a" stroke-width="0.9"/>
<line x1="238.79999999999998" y1="338.9" x2="251.2" y2="338.9" stroke="#9ebfe6" stroke-width="0.9"/>
<line x1="238.79999999999998" y1="353.59999999999997" x2="251.2" y2="353.59999999999997" stroke="#9cd398" stroke-width="0.9"/>
<line x1="238.79999999999998" y1="368.59999999999997" x2="251.2" y2="368.59999999999997" stroke="#cfa3e2" stroke-width="0.9"/>
<line x1="238.79999999999998" y1="384.2" x2="251.2" y2="384.2" stroke="#f6b878" stroke-width="0.9"/>
<text x="256.20" y="282.80" font-size="6.5" fill="#111" text-anchor="start" font-family='"Liberation Sans", sans-serif'  stroke="#111" stroke-width="0.08">Empirical WV</text>
<text x="299.50" y="282.80" font-size="6.0" fill="#111" text-anchor="start" font-family='"Liberation Sans", sans-serif'  stroke="#111" stroke-width="0.08">&#957;</text>
<path d="M300.20,277.70 L301.20,276.20 L302.20,277.70" fill="none" stroke="#111" stroke-width="0.5"/>
<text x="256.20" y="297.20" font-size="6.5" fill="#111" text-anchor="start" font-family='"Liberation Sans", sans-serif'  stroke="#111" stroke-width="0.08">CI(</text>
<text x="265.00" y="297.20" font-size="6.0" fill="#111" text-anchor="start" font-family='"Liberation Sans", sans-serif'  stroke="#111" stroke-width="0.08">&#957;</text>
<path d="M265.70,292.50 L266.60,291.20 L267.50,292.50" fill="none" stroke="#111" stroke-width="0.5"/>
<text x="268.40" y="297.20" font-size="6.5" fill="#111" text-anchor="start" font-family='"Liberation Sans", sans-serif'  stroke="#111" stroke-width="0.08">, 0.85)</text>
<text x="256.20" y="311.40" font-size="6.5" fill="#111" text-anchor="start" font-family='"Liberation Sans", sans-serif'  stroke="#111" stroke-width="0.08">AR1</text>
<text x="256.20" y="326.20" font-size="6.5" fill="#111" text-anchor="start" font-family='"Liberation Sans", sans-serif'  stroke="#111" stroke-width="0.08">AR1</text>
<text x="256.20" y="341.20" font-size="6.5" fill="#111" text-anchor="start" font-family='"Liberation Sans", sans-serif'  stroke="#111" stroke-width="0.08">AR1</text>
<text x="256.20" y="355.90" font-size="6.5" fill="#111" text-anchor="start" font-family='"Liberation Sans", sans-serif'  stroke="#111" stroke-width="0.08">WN</text>
<text x="256.20" y="370.90" font-size="6.5" fill="#111" text-anchor="start" font-family='"Liberation Sans", sans-serif'  stroke="#111" stroke-width="0.08">RW</text>
<text x="256.20" y="386.50" font-size="6.5" fill="#111" text-anchor="start" font-family='"Liberation Sans", sans-serif'  stroke="#111" stroke-width="0.08">Implied WV</text>
<text x="293.20" y="386.50" font-size="6.2" fill="#111" text-anchor="start" font-family='"Liberation Sans", sans-serif'  stroke="#111" stroke-width="0.08">&#957;(</text>
<text x="299.60" y="386.50" font-size="6.0" fill="#111" text-anchor="start" font-family='"Liberation Sans", sans-serif'  stroke="#111" stroke-width="0.08">&#952;</text>
<path d="M300.40,381.10 L301.30,379.80 L302.20,381.10" fill="none" stroke="#111" stroke-width="0.5"/>
<text x="303.10" y="386.50" font-size="6.2" fill="#111" text-anchor="start" font-family='"Liberation Sans", sans-serif'  stroke="#111" stroke-width="0.08">)</text>
</g>
<clipPath id="clipR18"><rect x="333.3" y="18.3" width="207.99999999999994" height="97.3"/></clipPath>
<line x1="380.50" y1="18.3" x2="380.50" y2="115.6" stroke="#efefef" stroke-width="0.7" stroke-dasharray="1,1"/>
<line x1="429.60" y1="18.3" x2="429.60" y2="115.6" stroke="#efefef" stroke-width="0.7" stroke-dasharray="1,1"/>
<line x1="478.70" y1="18.3" x2="478.70" y2="115.6" stroke="#efefef" stroke-width="0.7" stroke-dasharray="1,1"/>
<line x1="527.90" y1="18.3" x2="527.90" y2="115.6" stroke="#efefef" stroke-width="0.7" stroke-dasharray="1,1"/>
<g clip-path="url(#clipR18)">
<path d="M341.00,45.60 C343.43,46.53 350.70,50.48 355.60,51.20 C360.50,51.92 365.42,49.40 370.40,49.90 C375.38,50.40 380.50,51.88 385.50,54.20 C390.50,56.52 395.43,60.87 400.40,63.80 C405.37,66.73 410.43,69.23 415.30,71.80 C420.17,74.37 424.73,76.92 429.60,79.20 C434.47,81.48 439.55,82.78 444.50,85.50 C449.45,88.22 454.37,92.90 459.30,95.50 C464.23,98.10 469.13,101.18 474.10,101.10 C479.07,101.02 484.18,97.72 489.10,95.00 C494.02,92.28 498.68,88.72 503.60,84.80 C508.52,80.88 513.63,77.62 518.60,71.50 C523.57,65.38 530.93,52.00 533.40,48.10 L533.40,84.10 C530.93,84.92 523.57,86.72 518.60,89.00 C513.63,91.28 508.52,94.87 503.60,97.80 C498.68,100.73 494.02,104.80 489.10,106.60 C484.18,108.40 479.07,109.57 474.10,108.60 C469.13,107.63 464.23,104.15 459.30,100.80 C454.37,97.45 449.45,91.77 444.50,88.50 C439.55,85.23 434.47,83.68 429.60,81.20 C424.73,78.72 420.17,76.20 415.30,73.60 C410.43,71.00 405.37,68.57 400.40,65.60 C395.43,62.63 390.50,58.15 385.50,55.80 C380.50,53.45 375.38,52.00 370.40,51.50 C365.42,51.00 360.50,53.52 355.60,52.80 C350.70,52.08 343.43,48.13 341.00,47.20 Z" fill="#c4ebf6"/>
<path d="M341.00,46.40 L355.60,52.00 L370.40,50.70 L385.50,55.00 L400.40,64.70 L415.30,72.70 L429.60,80.20 L444.50,86.90 L459.40,98.20 L474.20,105.00 L489.10,102.00 L503.70,93.70 L518.70,79.00 L533.60,58.90" fill="none" stroke="#5470dc" stroke-width="0.8"/>
<path d="M333.30,21.00 L474.00,114.60 L541.30,64.50" fill="none" stroke="#e03838" stroke-width="0.9" stroke-dasharray="3.0,1.9"/>
<circle cx="341.00" cy="46.40" r="2.0" fill="#0c0c8c"/>
<circle cx="355.60" cy="52.00" r="2.0" fill="#0c0c8c"/>
<circle cx="370.40" cy="50.70" r="2.0" fill="#0c0c8c"/>
<circle cx="385.50" cy="55.00" r="2.0" fill="#0c0c8c"/>
<circle cx="400.40" cy="64.70" r="2.0" fill="#0c0c8c"/>
<circle cx="415.30" cy="72.70" r="2.0" fill="#0c0c8c"/>
<circle cx="429.60" cy="80.20" r="2.0" fill="#0c0c8c"/>
<circle cx="444.50" cy="86.90" r="2.0" fill="#0c0c8c"/>
<circle cx="459.40" cy="98.20" r="2.0" fill="#0c0c8c"/>
<circle cx="474.20" cy="105.00" r="2.0" fill="#0c0c8c"/>
<circle cx="489.10" cy="102.00" r="2.0" fill="#0c0c8c"/>
<circle cx="503.70" cy="93.70" r="2.0" fill="#0c0c8c"/>
<circle cx="518.70" cy="79.00" r="2.0" fill="#0c0c8c"/>
<circle cx="533.60" cy="58.90" r="2.0" fill="#0c0c8c"/>
</g>
<rect x="333.3" y="18.3" width="207.99999999999994" height="97.3" fill="none" stroke="#8c8c8c" stroke-width="1"/>
<text transform="translate(355.60,30.20) rotate(33.6)" font-size="5.8" fill="#e03838" stroke="#e03838" stroke-width="0.2" font-family='"Liberation Sans", sans-serif'>Slope= -1/2</text>
<text transform="translate(488.50,93.40) rotate(-36.5)" font-size="5.8" fill="#e03838" stroke="#e03838" stroke-width="0.2" font-family='"Liberation Sans", sans-serif'>Slope= 1/2</text>
<line x1="380.50" y1="115.6" x2="380.50" y2="119.1" stroke="#777" stroke-width="0.7"/>
<text x="379.20" y="131.20" font-size="6.8" fill="#333" text-anchor="middle" font-family='"Liberation Sans", sans-serif'  stroke="#333" stroke-width="0.08">10</text>
<text x="383.00" y="127.00" font-size="4.5" fill="#333" text-anchor="start" font-family='"Liberation Sans", sans-serif'  stroke="#333" stroke-width="0.08">-1</text>
<line x1="429.60" y1="115.6" x2="429.60" y2="119.1" stroke="#777" stroke-width="0.7"/>
<text x="428.30" y="131.20" font-size="6.8" fill="#333" text-anchor="middle" font-family='"Liberation Sans", sans-serif'  stroke="#333" stroke-width="0.08">10</text>
<text x="432.10" y="127.00" font-size="4.5" fill="#333" text-anchor="start" font-family='"Liberation Sans", sans-serif'  stroke="#333" stroke-width="0.08">0</text>
<line x1="478.70" y1="115.6" x2="478.70" y2="119.1" stroke="#777" stroke-width="0.7"/>
<text x="477.40" y="131.20" font-size="6.8" fill="#333" text-anchor="middle" font-family='"Liberation Sans", sans-serif'  stroke="#333" stroke-width="0.08">10</text>
<text x="481.20" y="127.00" font-size="4.5" fill="#333" text-anchor="start" font-family='"Liberation Sans", sans-serif'  stroke="#333" stroke-width="0.08">1</text>
<line x1="527.90" y1="115.6" x2="527.90" y2="119.1" stroke="#777" stroke-width="0.7"/>
<text x="526.60" y="131.20" font-size="6.8" fill="#333" text-anchor="middle" font-family='"Liberation Sans", sans-serif'  stroke="#333" stroke-width="0.08">10</text>
<text x="530.40" y="127.00" font-size="4.5" fill="#333" text-anchor="start" font-family='"Liberation Sans", sans-serif'  stroke="#333" stroke-width="0.08">2</text>
<line x1="329.5" y1="36.10" x2="333.3" y2="36.10" stroke="#777" stroke-width="0.7"/>
<text transform="translate(322.70,38.50) rotate(-90)" font-size="6.2" fill="#222" stroke="#222" stroke-width="0.1" text-anchor="middle" font-family='"Liberation Sans", sans-serif'>10</text>
<text transform="translate(319.20,34.90) rotate(-90)" font-size="4.2" fill="#222" stroke="#222" stroke-width="0.08" font-family='"Liberation Sans", sans-serif'>-3</text>
<line x1="329.5" y1="102.40" x2="333.3" y2="102.40" stroke="#777" stroke-width="0.7"/>
<text transform="translate(322.70,104.80) rotate(-90)" font-size="6.2" fill="#222" stroke="#222" stroke-width="0.1" text-anchor="middle" font-family='"Liberation Sans", sans-serif'>10</text>
<text transform="translate(319.20,101.20) rotate(-90)" font-size="4.2" fill="#222" stroke="#222" stroke-width="0.08" font-family='"Liberation Sans", sans-serif'>-4</text>
<text x="356.20" y="14.00" font-size="7.7" fill="#000" text-anchor="start" font-family='"Liberation Sans", sans-serif' textLength="157" lengthAdjust="spacing" stroke="#000" stroke-width="0.12">X-axis Allan Deviation log-log Representation</text>
<text x="448.6" y="132.80" font-size="7.8" fill="#111" stroke="#111" stroke-width="0.1" font-family='"Liberation Serif", serif'><tspan font-style="italic">&#964;</tspan><tspan font-family='"Liberation Sans", sans-serif' dx="0.8">(</tspan><tspan font-style="italic" dx="0.3">s</tspan><tspan font-family='"Liberation Sans", sans-serif' dx="0.6">)</tspan></text>
<text transform="translate(312.50,67.75) rotate(-90)" font-size="7.9" fill="#111" stroke="#111" stroke-width="0.12" text-anchor="middle" textLength="38.6" lengthAdjust="spacingAndGlyphs" font-family='"Liberation Sans", sans-serif'><tspan font-family='"Liberation Serif", serif' font-style="italic">&#963;</tspan>(<tspan font-family='"Liberation Serif", serif' font-style="italic">&#964;</tspan>)(rad/s)</text>
<line x1="334.50" y1="103.00" x2="342.50" y2="103.00" stroke="#5470dc" stroke-width="0.9"/>
<circle cx="338.50" cy="103.00" r="2" fill="#0c0c8c"/>
<rect x="334.80" y="105.00" width="8" height="7.8" fill="#c4ebf6"/>
<text x="346.10" y="107.30" font-size="6.4" fill="#222" text-anchor="start" font-family='"Liberation Sans", sans-serif'  stroke="#222" stroke-width="0.08">Empirical AD</text>
<text x="384.30" y="107.60" font-size="6.6" fill="#222" text-anchor="start" font-family='"Liberation Sans", sans-serif'  stroke="#222" stroke-width="0.08">&#981;</text>
<path d="M385.30,101.40 L386.30,99.80 L387.30,101.40" fill="none" stroke="#222" stroke-width="0.5"/>
<text x="346.50" y="113.00" font-size="6.3" fill="#222" text-anchor="start" font-family='"Liberation Sans", sans-serif'  stroke="#222" stroke-width="0.08">CI(</text>
<text x="354.80" y="113.00" font-size="5.8" fill="#222" text-anchor="start" font-family='"Liberation Sans", sans-serif'  stroke="#222" stroke-width="0.08">&#981;</text>
<path d="M355.60,108.40 L356.40,107.40 L357.20,108.40" fill="none" stroke="#222" stroke-width="0.5"/>
<text x="357.80" y="113.00" font-size="6.3" fill="#222" text-anchor="start" font-family='"Liberation Sans", sans-serif'  stroke="#222" stroke-width="0.08">, 0.95)</text>
<clipPath id="clipR149"><rect x="334.2" y="149.4" width="207.59999999999997" height="96.79999999999998"/></clipPath>
<line x1="381.00" y1="149.4" x2="381.00" y2="246.2" stroke="#efefef" stroke-width="0.7" stroke-dasharray="1,1"/>
<line x1="430.40" y1="149.4" x2="430.40" y2="246.2" stroke="#efefef" stroke-width="0.7" stroke-dasharray="1,1"/>
<line x1="479.40" y1="149.4" x2="479.40" y2="246.2" stroke="#efefef" stroke-width="0.7" stroke-dasharray="1,1"/>
<line x1="528.40" y1="149.4" x2="528.40" y2="246.2" stroke="#efefef" stroke-width="0.7" stroke-dasharray="1,1"/>
<g clip-path="url(#clipR149)">
<path d="M341.80,176.60 L356.50,183.80 L371.40,185.40 L386.30,188.30 L401.20,194.20 L415.90,199.80 L430.40,202.40 L445.50,204.40 L460.20,205.00 L475.30,205.30 L490.30,205.70 L504.60,208.10 L519.40,209.10 L534.50,218.60 L534.50,237.70 L519.40,218.60 L504.60,216.70 L490.30,210.00 L475.30,209.10 L460.20,208.00 L445.50,206.60 L430.40,203.80 L415.90,201.20 L401.20,195.60 L386.30,189.70 L371.40,186.80 L356.50,185.20 L341.80,178.00 Z" fill="#c4ebf6"/>
<path d="M341.80,177.30 L356.50,184.50 L371.40,186.10 L386.30,189.00 L401.20,194.90 L415.90,200.50 L430.40,203.10 L445.50,205.30 L460.20,206.50 L475.30,207.00 L490.30,207.60 L504.60,211.80 L519.40,212.60 L534.50,225.70" fill="none" stroke="#5470dc" stroke-width="0.8"/>
<path d="M334.30,169.40 L541.80,248.50" fill="none" stroke="#e03838" stroke-width="0.9" stroke-dasharray="3.0,1.9"/>
<path d="M334.30,207.10 L541.80,207.10" fill="none" stroke="#e03838" stroke-width="0.9" stroke-dasharray="3.0,1.9"/>
<path d="M475.30,149.40 L475.30,246.20" fill="none" stroke="#e03838" stroke-width="0.9" stroke-dasharray="3.0,1.9"/>
<circle cx="341.80" cy="177.30" r="2.0" fill="#0c0c8c"/>
<circle cx="356.50" cy="184.50" r="2.0" fill="#0c0c8c"/>
<circle cx="371.40" cy="186.10" r="2.0" fill="#0c0c8c"/>
<circle cx="386.30" cy="189.00" r="2.0" fill="#0c0c8c"/>
<circle cx="401.20" cy="194.90" r="2.0" fill="#0c0c8c"/>
<circle cx="415.90" cy="200.50" r="2.0" fill="#0c0c8c"/>
<circle cx="430.40" cy="203.10" r="2.0" fill="#0c0c8c"/>
<circle cx="445.50" cy="205.30" r="2.0" fill="#0c0c8c"/>
<circle cx="460.20" cy="206.50" r="2.0" fill="#0c0c8c"/>
<circle cx="475.30" cy="207.00" r="2.0" fill="#0c0c8c"/>
<circle cx="490.30" cy="207.60" r="2.0" fill="#0c0c8c"/>
<circle cx="504.60" cy="211.80" r="2.0" fill="#0c0c8c"/>
<circle cx="519.40" cy="212.60" r="2.0" fill="#0c0c8c"/>
<circle cx="534.50" cy="225.70" r="2.0" fill="#0c0c8c"/>
</g>
<rect x="334.2" y="149.4" width="207.59999999999997" height="96.79999999999998" fill="none" stroke="#8c8c8c" stroke-width="1"/>
<text transform="translate(345.40,168.20) rotate(23.0)" font-size="5.8" fill="#e03838" stroke="#e03838" stroke-width="0.2" font-family='"Liberation Sans", sans-serif'>Slope= -1/2</text>
<line x1="381.00" y1="246.2" x2="381.00" y2="249.7" stroke="#777" stroke-width="0.7"/>
<text x="379.70" y="261.80" font-size="6.8" fill="#333" text-anchor="middle" font-family='"Liberation Sans", sans-serif'  stroke="#333" stroke-width="0.08">10</text>
<text x="383.50" y="257.60" font-size="4.5" fill="#333" text-anchor="start" font-family='"Liberation Sans", sans-serif'  stroke="#333" stroke-width="0.08">-1</text>
<line x1="430.40" y1="246.2" x2="430.40" y2="249.7" stroke="#777" stroke-width="0.7"/>
<text x="429.10" y="261.80" font-size="6.8" fill="#333" text-anchor="middle" font-family='"Liberation Sans", sans-serif'  stroke="#333" stroke-width="0.08">10</text>
<text x="432.90" y="257.60" font-size="4.5" fill="#333" text-anchor="start" font-family='"Liberation Sans", sans-serif'  stroke="#333" stroke-width="0.08">0</text>
<line x1="479.40" y1="246.2" x2="479.40" y2="249.7" stroke="#777" stroke-width="0.7"/>
<text x="478.10" y="261.80" font-size="6.8" fill="#333" text-anchor="middle" font-family='"Liberation Sans", sans-serif'  stroke="#333" stroke-width="0.08">10</text>
<text x="481.90" y="257.60" font-size="4.5" fill="#333" text-anchor="start" font-family='"Liberation Sans", sans-serif'  stroke="#333" stroke-width="0.08">1</text>
<line x1="528.40" y1="246.2" x2="528.40" y2="249.7" stroke="#777" stroke-width="0.7"/>
<text x="527.10" y="261.80" font-size="6.8" fill="#333" text-anchor="middle" font-family='"Liberation Sans", sans-serif'  stroke="#333" stroke-width="0.08">10</text>
<text x="530.90" y="257.60" font-size="4.5" fill="#333" text-anchor="start" font-family='"Liberation Sans", sans-serif'  stroke="#333" stroke-width="0.08">2</text>
<line x1="330.4" y1="170.00" x2="334.2" y2="170.00" stroke="#777" stroke-width="0.7"/>
<text transform="translate(323.60,172.40) rotate(-90)" font-size="6.2" fill="#222" stroke="#222" stroke-width="0.1" text-anchor="middle" font-family='"Liberation Sans", sans-serif'>10</text>
<text transform="translate(320.10,168.80) rotate(-90)" font-size="4.2" fill="#222" stroke="#222" stroke-width="0.08" font-family='"Liberation Sans", sans-serif'>-3</text>
<line x1="330.4" y1="207.50" x2="334.2" y2="207.50" stroke="#777" stroke-width="0.7"/>
<text transform="translate(323.60,209.90) rotate(-90)" font-size="6.2" fill="#222" stroke="#222" stroke-width="0.1" text-anchor="middle" font-family='"Liberation Sans", sans-serif'>10</text>
<text transform="translate(320.10,206.30) rotate(-90)" font-size="4.2" fill="#222" stroke="#222" stroke-width="0.08" font-family='"Liberation Sans", sans-serif'>-4</text>
<text x="360.10" y="146.10" font-size="7.7" fill="#000" text-anchor="start" font-family='"Liberation Sans", sans-serif' textLength="157" lengthAdjust="spacing" stroke="#000" stroke-width="0.12">Y-axis Allan Deviation log-log Representation</text>
<text x="448.6" y="263.40" font-size="7.8" fill="#111" stroke="#111" stroke-width="0.1" font-family='"Liberation Serif", serif'><tspan font-style="italic">&#964;</tspan><tspan font-family='"Liberation Sans", sans-serif' dx="0.8">(</tspan><tspan font-style="italic" dx="0.3">s</tspan><tspan font-family='"Liberation Sans", sans-serif' dx="0.6">)</tspan></text>
<text transform="translate(313.40,198.60) rotate(-90)" font-size="7.9" fill="#111" stroke="#111" stroke-width="0.12" text-anchor="middle" textLength="38.6" lengthAdjust="spacingAndGlyphs" font-family='"Liberation Sans", sans-serif'><tspan font-family='"Liberation Serif", serif' font-style="italic">&#963;</tspan>(<tspan font-family='"Liberation Serif", serif' font-style="italic">&#964;</tspan>)(rad/s)</text>
<line x1="335.00" y1="234.20" x2="343.00" y2="234.20" stroke="#5470dc" stroke-width="0.9"/>
<circle cx="339.00" cy="234.20" r="2" fill="#0c0c8c"/>
<rect x="335.30" y="236.20" width="8" height="7.8" fill="#c4ebf6"/>
<text x="346.60" y="238.50" font-size="6.4" fill="#222" text-anchor="start" font-family='"Liberation Sans", sans-serif'  stroke="#222" stroke-width="0.08">Empirical AD</text>
<text x="384.80" y="238.80" font-size="6.6" fill="#222" text-anchor="start" font-family='"Liberation Sans", sans-serif'  stroke="#222" stroke-width="0.08">&#981;</text>
<path d="M385.80,232.60 L386.80,231.00 L387.80,232.60" fill="none" stroke="#222" stroke-width="0.5"/>
<text x="347.00" y="244.20" font-size="6.3" fill="#222" text-anchor="start" font-family='"Liberation Sans", sans-serif'  stroke="#222" stroke-width="0.08">CI(</text>
<text x="355.30" y="244.20" font-size="5.8" fill="#222" text-anchor="start" font-family='"Liberation Sans", sans-serif'  stroke="#222" stroke-width="0.08">&#981;</text>
<path d="M356.10,239.60 L356.90,238.60 L357.70,239.60" fill="none" stroke="#222" stroke-width="0.5"/>
<text x="358.30" y="244.20" font-size="6.3" fill="#222" text-anchor="start" font-family='"Liberation Sans", sans-serif'  stroke="#222" stroke-width="0.08">, 0.95)</text>
<clipPath id="clipR278"><rect x="334.0" y="278.2" width="208.39999999999998" height="96.19999999999999"/></clipPath>
<line x1="381.20" y1="278.2" x2="381.20" y2="374.4" stroke="#efefef" stroke-width="0.7" stroke-dasharray="1,1"/>
<line x1="430.60" y1="278.2" x2="430.60" y2="374.4" stroke="#efefef" stroke-width="0.7" stroke-dasharray="1,1"/>
<line x1="479.70" y1="278.2" x2="479.70" y2="374.4" stroke="#efefef" stroke-width="0.7" stroke-dasharray="1,1"/>
<line x1="528.80" y1="278.2" x2="528.80" y2="374.4" stroke="#efefef" stroke-width="0.7" stroke-dasharray="1,1"/>
<g clip-path="url(#clipR278)">
<path d="M342.20,304.90 C344.62,306.60 351.82,312.07 356.70,315.10 C361.58,318.13 366.53,320.13 371.50,323.10 C376.47,326.07 381.53,329.73 386.50,332.90 C391.47,336.07 396.38,338.95 401.30,342.10 C406.22,345.25 411.08,349.15 416.00,351.80 C420.92,354.45 425.88,356.38 430.80,358.00 C435.72,359.62 440.58,361.13 445.50,361.50 C450.42,361.87 455.35,360.48 460.30,360.20 C465.25,359.92 470.23,359.93 475.20,359.80 C480.17,359.67 485.15,361.20 490.10,359.40 C495.05,357.60 499.98,352.82 504.90,349.00 C509.82,345.18 514.70,342.25 519.60,336.50 C524.50,330.75 531.85,318.17 534.30,314.50 L534.30,351.00 C531.85,351.50 524.50,352.43 519.60,354.00 C514.70,355.57 509.82,358.33 504.90,360.40 C499.98,362.47 495.05,365.37 490.10,366.40 C485.15,367.43 480.17,366.60 475.20,366.60 C470.23,366.60 465.25,366.50 460.30,366.40 C455.35,366.30 450.42,367.07 445.50,366.00 C440.58,364.93 435.72,362.10 430.80,360.00 C425.88,357.90 420.92,356.15 416.00,353.40 C411.08,350.65 406.22,346.68 401.30,343.50 C396.38,340.32 391.47,337.47 386.50,334.30 C381.53,331.13 376.47,327.47 371.50,324.50 C366.53,321.53 361.58,319.53 356.70,316.50 C351.82,313.47 344.62,308.00 342.20,306.30 Z" fill="#c4ebf6"/>
<path d="M342.20,305.60 L356.70,315.80 L371.50,323.80 L386.50,333.60 L401.30,342.80 L416.00,352.60 L430.80,359.00 L445.50,363.80 L460.30,363.80 L475.20,363.00 L490.10,363.00 L504.90,356.50 L519.60,344.30 L534.30,325.90" fill="none" stroke="#5470dc" stroke-width="0.8"/>
<path d="M334.20,303.30 L456.30,374.00" fill="none" stroke="#e03838" stroke-width="0.9" stroke-dasharray="3.0,1.9"/>
<path d="M390.50,363.70 L542.40,363.70" fill="none" stroke="#e03838" stroke-width="0.9" stroke-dasharray="3.0,1.9"/>
<path d="M460.30,278.30 L460.30,374.40" fill="none" stroke="#e03838" stroke-width="0.9" stroke-dasharray="3.0,1.9"/>
<path d="M479.00,374.40 L542.40,329.00" fill="none" stroke="#e03838" stroke-width="0.9" stroke-dasharray="3.0,1.9"/>
<circle cx="342.20" cy="305.60" r="2.0" fill="#0c0c8c"/>
<circle cx="356.70" cy="315.80" r="2.0" fill="#0c0c8c"/>
<circle cx="371.50" cy="323.80" r="2.0" fill="#0c0c8c"/>
<circle cx="386.50" cy="333.60" r="2.0" fill="#0c0c8c"/>
<circle cx="401.30" cy="342.80" r="2.0" fill="#0c0c8c"/>
<circle cx="416.00" cy="352.60" r="2.0" fill="#0c0c8c"/>
<circle cx="430.80" cy="359.00" r="2.0" fill="#0c0c8c"/>
<circle cx="445.50" cy="363.80" r="2.0" fill="#0c0c8c"/>
<circle cx="460.30" cy="363.80" r="2.0" fill="#0c0c8c"/>
<circle cx="475.20" cy="363.00" r="2.0" fill="#0c0c8c"/>
<circle cx="490.10" cy="363.00" r="2.0" fill="#0c0c8c"/>
<circle cx="504.90" cy="356.50" r="2.0" fill="#0c0c8c"/>
<circle cx="519.60" cy="344.30" r="2.0" fill="#0c0c8c"/>
<circle cx="534.30" cy="325.90" r="2.0" fill="#0c0c8c"/>
</g>
<rect x="334.0" y="278.2" width="208.39999999999998" height="96.19999999999999" fill="none" stroke="#8c8c8c" stroke-width="1"/>
<text transform="translate(353.90,308.70) rotate(33.0)" font-size="5.8" fill="#e03838" stroke="#e03838" stroke-width="0.2" font-family='"Liberation Sans", sans-serif'>Slope= -1/2</text>
<text transform="translate(493.80,355.20) rotate(-36.0)" font-size="5.8" fill="#e03838" stroke="#e03838" stroke-width="0.2" font-family='"Liberation Sans", sans-serif'>Slope= 1/2</text>
<line x1="381.20" y1="374.4" x2="381.20" y2="377.9" stroke="#777" stroke-width="0.7"/>
<text x="379.90" y="390.00" font-size="6.8" fill="#333" text-anchor="middle" font-family='"Liberation Sans", sans-serif'  stroke="#333" stroke-width="0.08">10</text>
<text x="383.70" y="385.80" font-size="4.5" fill="#333" text-anchor="start" font-family='"Liberation Sans", sans-serif'  stroke="#333" stroke-width="0.08">-1</text>
<line x1="430.60" y1="374.4" x2="430.60" y2="377.9" stroke="#777" stroke-width="0.7"/>
<text x="429.30" y="390.00" font-size="6.8" fill="#333" text-anchor="middle" font-family='"Liberation Sans", sans-serif'  stroke="#333" stroke-width="0.08">10</text>
<text x="433.10" y="385.80" font-size="4.5" fill="#333" text-anchor="start" font-family='"Liberation Sans", sans-serif'  stroke="#333" stroke-width="0.08">0</text>
<line x1="479.70" y1="374.4" x2="479.70" y2="377.9" stroke="#777" stroke-width="0.7"/>
<text x="478.40" y="390.00" font-size="6.8" fill="#333" text-anchor="middle" font-family='"Liberation Sans", sans-serif'  stroke="#333" stroke-width="0.08">10</text>
<text x="482.20" y="385.80" font-size="4.5" fill="#333" text-anchor="start" font-family='"Liberation Sans", sans-serif'  stroke="#333" stroke-width="0.08">1</text>
<line x1="528.80" y1="374.4" x2="528.80" y2="377.9" stroke="#777" stroke-width="0.7"/>
<text x="527.50" y="390.00" font-size="6.8" fill="#333" text-anchor="middle" font-family='"Liberation Sans", sans-serif'  stroke="#333" stroke-width="0.08">10</text>
<text x="531.30" y="385.80" font-size="4.5" fill="#333" text-anchor="start" font-family='"Liberation Sans", sans-serif'  stroke="#333" stroke-width="0.08">2</text>
<line x1="330.2" y1="307.10" x2="334.0" y2="307.10" stroke="#777" stroke-width="0.7"/>
<text transform="translate(323.40,309.50) rotate(-90)" font-size="6.2" fill="#222" stroke="#222" stroke-width="0.1" text-anchor="middle" font-family='"Liberation Sans", sans-serif'>10</text>
<text transform="translate(319.90,305.90) rotate(-90)" font-size="4.2" fill="#222" stroke="#222" stroke-width="0.08" font-family='"Liberation Sans", sans-serif'>-3</text>
<line x1="330.2" y1="374.20" x2="334.0" y2="374.20" stroke="#777" stroke-width="0.7"/>
<text transform="translate(323.40,376.60) rotate(-90)" font-size="6.2" fill="#222" stroke="#222" stroke-width="0.1" text-anchor="middle" font-family='"Liberation Sans", sans-serif'>10</text>
<text transform="translate(319.90,373.00) rotate(-90)" font-size="4.2" fill="#222" stroke="#222" stroke-width="0.08" font-family='"Liberation Sans", sans-serif'>-4</text>
<text x="361.10" y="274.00" font-size="7.7" fill="#000" text-anchor="start" font-family='"Liberation Sans", sans-serif' textLength="157" lengthAdjust="spacing" stroke="#000" stroke-width="0.12">Z-axis Allan Deviation log-log Representation</text>
<text x="448.6" y="391.60" font-size="7.8" fill="#111" stroke="#111" stroke-width="0.1" font-family='"Liberation Serif", serif'><tspan font-style="italic">&#964;</tspan><tspan font-family='"Liberation Sans", sans-serif' dx="0.8">(</tspan><tspan font-style="italic" dx="0.3">s</tspan><tspan font-family='"Liberation Sans", sans-serif' dx="0.6">)</tspan></text>
<text transform="translate(313.20,329.30) rotate(-90)" font-size="7.9" fill="#111" stroke="#111" stroke-width="0.12" text-anchor="middle" textLength="38.6" lengthAdjust="spacingAndGlyphs" font-family='"Liberation Sans", sans-serif'><tspan font-family='"Liberation Serif", serif' font-style="italic">&#963;</tspan>(<tspan font-family='"Liberation Serif", serif' font-style="italic">&#964;</tspan>)(rad/s)</text>
<line x1="335.40" y1="362.70" x2="343.40" y2="362.70" stroke="#5470dc" stroke-width="0.9"/>
<circle cx="339.40" cy="362.70" r="2" fill="#0c0c8c"/>
<rect x="335.70" y="364.70" width="8" height="7.8" fill="#c4ebf6"/>
<text x="347.00" y="367.00" font-size="6.4" fill="#222" text-anchor="start" font-family='"Liberation Sans", sans-serif'  stroke="#222" stroke-width="0.08">Empirical AD</text>
<text x="385.20" y="367.30" font-size="6.6" fill="#222" text-anchor="start" font-family='"Liberation Sans", sans-serif'  stroke="#222" stroke-width="0.08">&#981;</text>
<path d="M386.20,361.10 L387.20,359.50 L388.20,361.10" fill="none" stroke="#222" stroke-width="0.5"/>
<text x="347.40" y="372.70" font-size="6.3" fill="#222" text-anchor="start" font-family='"Liberation Sans", sans-serif'  stroke="#222" stroke-width="0.08">CI(</text>
<text x="355.70" y="372.70" font-size="5.8" fill="#222" text-anchor="start" font-family='"Liberation Sans", sans-serif'  stroke="#222" stroke-width="0.08">&#981;</text>
<path d="M356.50,368.10 L357.30,367.10 L358.10,368.10" fill="none" stroke="#222" stroke-width="0.5"/>
<text x="358.70" y="372.70" font-size="6.3" fill="#222" text-anchor="start" font-family='"Liberation Sans", sans-serif'  stroke="#222" stroke-width="0.08">, 0.95)</text>
</svg>
</body></html>
